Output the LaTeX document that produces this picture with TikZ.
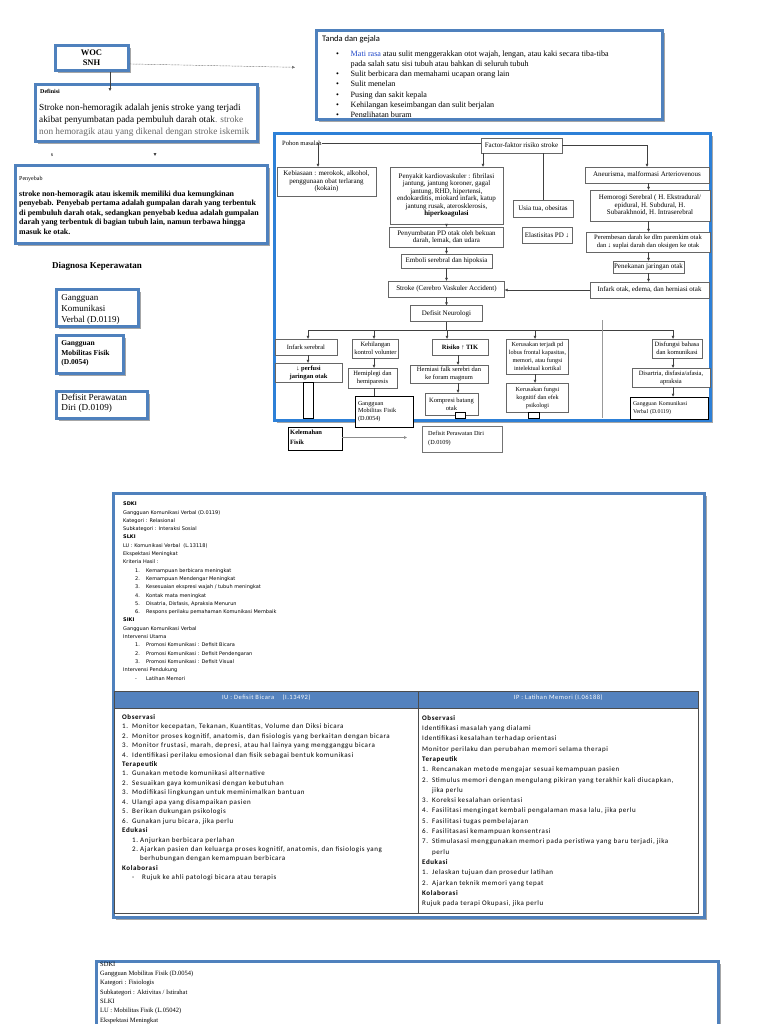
\documentclass[tikz,border=0pt]{standalone}
\usepackage{fontspec}
\setmainfont{Liberation Serif}
\newfontfamily\calfont{Carlito}
\newfontfamily\tblfont[LetterSpace=8]{Carlito}
\newfontfamily\tahfont{DejaVu Sans}
\usetikzlibrary{arrows.meta,shadows,calc}
\definecolor{frameblue}{RGB}{79,129,189}
\definecolor{flowblue}{RGB}{45,128,215}
\definecolor{hdrblue}{RGB}{84,130,190}
\definecolor{linkblue}{RGB}{30,70,200}
\newcommand{\firsth}{\rule{0pt}{0.8em}}
\begin{document}
\begin{tikzpicture}[x=1pt,y=-1pt,
  bframe/.style={draw=frameblue, line width=3pt, fill=white, inner sep=0pt, anchor=north west,
     drop shadow={shadow xshift=2.5pt, shadow yshift=-2.5pt, fill=black!35, opacity=1}},
  fc/.style={draw=black!60, line width=0.45pt, fill=white, align=center, inner sep=0pt,
     font=\fontsize{7}{7.5}\selectfont},
  fl/.style={fc, font=\fontsize{6.5}{8}\selectfont},
  blk/.style={draw=black, line width=0.9pt, fill=white, inner sep=0pt},
  txt/.style={anchor=base west, inner sep=0pt, align=left},
  txtm/.style={anchor=north west, inner sep=0pt, align=left},
  tip/.style={-{Triangle[length=2.8pt,width=2.6pt]}},
  conn/.style={draw=black!75, line width=0.45pt},
]
\useasboundingbox (0,0) rectangle (768,1024);
\clip (0,0) rectangle (768,1024);
\fill[white] (0,0) rectangle (768,1024);

% ---------------- top left ----------------
\node[bframe, minimum width=73pt, minimum height=24.5pt, align=center,
      font=\fontsize{8.5}{10}\selectfont\bfseries] (woc) at (53.5,44.2) {WOC\\SNH};
\node[bframe, minimum width=222pt, minimum height=57pt] (def) at (33.5,83.2) {};
\node[txt, font=\fontsize{6}{7}\selectfont\bfseries] (deft) at (40,93.5) {Definisi};
\node[txtm, font=\fontsize{9.3}{12.3}\selectfont] (defp) at (39,102.4)
  {\firsth Stroke non-hemoragik adalah jenis stroke yang terjadi\\
   akibat penyumbatan pada pembuluh darah otak{\color{black!60}. stroke}\\
   {\color{black!60}non hemoragik atau yang dikenal dengan stroke iskemik}};

\coordinate (defarr) at (110,91);
\draw[conn, tip] (woc.south -| defarr) -- (defarr);
\coordinate (tgarr) at (295,67.3);
\draw[conn, black!55, dash pattern=on 2pt off 1pt, tip] ([yshift=-6pt]woc.east) -- (tgarr);

\node[inner sep=0pt, font=\fontsize{6}{7}\selectfont] (sch) at (52,155) {s};
\coordinate (sarr) at (155,156);
\draw[conn, tip] ([yshift=3pt]sarr) -- (sarr);

\node[bframe, minimum width=252pt, minimum height=77pt] (peny) at (13.5,164.5) {};
\node[txt, font=\fontsize{6}{7}\selectfont] (penyt) at (19,180.3) {Penyebab};
\node[txtm, font=\fontsize{7.9}{9.4}\selectfont\bfseries] (penyp) at (19,190)
  {\firsth stroke non-hemoragik atau iskemik memiliki dua kemungkinan\\
   penyebab. Penyebab pertama adalah gumpalan darah yang terbentuk\\
   di pembuluh darah otak, sedangkan penyebab kedua adalah gumpalan\\
   darah yang terbentuk di bagian tubuh lain, namun terbawa hingga\\
   masuk ke otak.};

\node[txt, font=\fontsize{9}{10}\selectfont\bfseries] (diag) at (52,268.5) {Diagnosa Keperawatan};

\node[bframe, minimum width=82pt, minimum height=37pt] (gkv) at (54.8,288.2) {};
\node[txtm, font=\fontsize{9}{11}\selectfont] (gkvt) at (61.2,293.2) {\firsth Gangguan\\Komunikasi\\Verbal (D.0119)};
\node[bframe, minimum width=67pt, minimum height=37.3pt] (gmf) at (54.5,334.2) {};
\node[txtm, font=\fontsize{7.5}{9.7}\selectfont\bfseries] (gmft) at (61.2,339.2) {\firsth Gangguan\\Mobilitas Fisik\\(D.0054)};
\node[bframe, minimum width=91pt, minimum height=27pt] (dpd) at (54.5,389.5) {};
\node[txtm, font=\fontsize{9.2}{10}\selectfont] (dpdt) at (61.2,393.4) {\firsth Defisit Perawatan\\Diri (D.0109)};

% ---------------- tanda dan gejala ----------------
\node[bframe, minimum width=346pt, minimum height=89pt] (tanda) at (314.5,29.5) {};
\begin{scope}
\clip (316,31) rectangle (659,116.8);
\node[txt, font=\calfont\fontsize{8.5}{10}\selectfont] (tandah) at (322,42) {Tanda dan gejala};
\node[txtm, font=\fontsize{8.1}{10.2}\selectfont] (tandal) at (336,49.6)
  {\firsth\makebox[14.5pt][l]{•}{\color{linkblue}Mati rasa} atau sulit menggerakkan otot wajah, lengan, atau kaki secara tiba-tiba\\
   \hspace*{14.5pt}pada salah satu sisi tubuh atau bahkan di seluruh tubuh\\
   \makebox[14.5pt][l]{•}Sulit berbicara dan memahami ucapan orang lain\\
   \makebox[14.5pt][l]{•}Sulit menelan\\
   \makebox[14.5pt][l]{•}Pusing dan sakit kepala\\
   \makebox[14.5pt][l]{•}Kehilangan keseimbangan dan sulit berjalan\\
   \makebox[14.5pt][l]{•}Penglihatan buram};
\end{scope}

% ---------------- flowchart ----------------
\node[bframe, draw=flowblue, minimum width=436pt, minimum height=287pt] (flow) at (273,132) {};

\node[anchor=west, inner sep=0pt, font=\fontsize{6.5}{7.5}\selectfont] (pohon) at (282,143) {Pohon masalah};
\node[fc, minimum width=81pt, minimum height=15pt] (factor) at (521.5,145.5) {Factor-faktor risiko stroke};
\node[fc, minimum width=99pt, minimum height=29pt] (kebiasaan) at (326.5,181.5) {Kebiasaan : merokok, alkohol,\\penggunaan obat terlarang\\(kokain)};
\node[fc, minimum width=113pt, minimum height=57pt] (penyakit) at (446.5,195.5) {Penyakit kardiovaskuler : fibrilasi\\jantung, jantung koroner, gagal\\jantung, RHD, hipertensi,\\endokarditis, miokard infark, katup\\jantung rusak, aterosklerosis,\\\textbf{hiperkoagulasi}};
\node[fc, minimum width=60pt, minimum height=17pt] (usia) at (543,208.5) {Usia tua, obesitas};
\node[fc, minimum width=50pt, minimum height=16pt] (elast) at (547,235) {Elastisitas PD ↓};
\node[fc, minimum width=124pt, minimum height=16pt] (aneur) at (647,175) {Aneurisma, malformasi Arteriovenous};
\node[fc, minimum width=120pt, minimum height=31pt] (hemor) at (650,205.5) {Hemorogi Serebral ( H. Ekstradural/\\epidural, H. Subdural, H.\\Subarakhnoid, H. Intraserebral};
\node[fc, minimum width=124pt, minimum height=20pt, font=\fontsize{6.6}{7.5}\selectfont] (perem) at (648,242) {Perembesan darah ke dlm parenkim otak\\dan ↓ suplai darah dan oksigen ke otak};
\node[fc, minimum width=71pt, minimum height=12pt] (penek) at (648.5,267) {Penekanan jaringan otak};
\node[fc, minimum width=119pt, minimum height=16pt] (infotak) at (649.5,290) {Infark otak, edema, dan herniasi otak};
\node[fc, minimum width=114pt, minimum height=20pt] (penyum) at (446.5,237) {Penyumbatan PD otak oleh bekuan\\darah, lemak, dan udara};
\node[fc, minimum width=91pt, minimum height=14pt] (emboli) at (446.5,261) {Emboli serebral dan hipoksia};
\node[fc, minimum width=116pt, minimum height=16pt] (stroke) at (446.5,289) {Stroke (Cerebro Vaskuler Accident)};
\node[fc, minimum width=72pt, minimum height=16pt] (defneu) at (446.5,313.5) {Defisit Neurologi};

\node[fl, minimum width=62pt, minimum height=16pt] (infser) at (306,347) {Infark serebral};
\node[fl, minimum width=67pt, minimum height=19pt, font=\fontsize{6.5}{8}\selectfont\bfseries] (perfusi) at (308.5,372.5) {↓ perfusi\\jaringan otak};
\node[blk, line width=0.8pt, minimum width=10pt, minimum height=36pt] (rect1) at (308,400) {};
\node[fl, minimum width=46pt, minimum height=19pt] (kehil) at (375.5,348.5) {Kehilangan\\kontrol volunter};
\node[fl, minimum width=49pt, minimum height=20pt] (hemip) at (372.5,378) {Hemiplegi dan\\hemiparesis};
\node[fl, minimum width=56pt, minimum height=16pt, font=\fontsize{6.5}{8}\selectfont\bfseries] (risiko) at (460,347) {Risiko ↑ TIK};
\node[fl, minimum width=78pt, minimum height=18pt] (hernia) at (449,374) {Herniasi falk serebri dan\\ke foram magnum};
\node[fl, minimum width=53pt, minimum height=22pt] (kompresi) at (451.5,404) {Kompresi batang\\otak};
\node[blk, line width=0.8pt, minimum width=10pt, minimum height=6pt] (sq1) at (460,415) {};
\node[fl, minimum width=62pt, minimum height=35pt, font=\fontsize{6.2}{8}\selectfont] (kerus1) at (537.5,356.5) {Kerusakan terjadi pd\\lobus frontal kapasitas,\\memori, atau fungsi\\intelektual kortikal};
\node[fl, minimum width=62pt, minimum height=29pt, font=\fontsize{6.2}{8}\selectfont] (kerus2) at (537.5,397.5) {Kerusakan fungsi\\kognitif dan efek\\psikologi};
\node[blk, line width=0.8pt, minimum width=11pt, minimum height=6pt] (sq2) at (533.5,415) {};
\node[fl, minimum width=50pt, minimum height=19pt] (disf) at (677,348.5) {Disfungsi bahasa\\dan komunikasi};
\node[fl, minimum width=78pt, minimum height=19pt] (disart) at (671,377.5) {Disartria, disfasia/afasia,\\apraksia};

\node[blk, minimum width=58pt, minimum height=31pt, text width=52pt, align=left,
      font=\fontsize{6.2}{7.8}\selectfont] (gmf2) at (384,411.5) {Gangguan\\Mobilitas Fisik\\(D.0054)};
\node[blk, minimum width=78pt, minimum height=22pt, text width=72pt, align=left,
      font=\fontsize{5.8}{7.5}\selectfont] (gkv2) at (669,408) {Gangguan Komunikasi\\Verbal (D.0119)};

% flowchart connectors
\coordinate (pm) at (318,143);
\coordinate (fk) at (483,143);
\draw[conn] (pohon.east) -- (pohon.east -| factor.west);
\draw[conn, tip] (pm) -- (pm |- kebiasaan.north);
\draw[conn, tip] (factor.south -| fk) -- (fk |- penyakit.north);
\draw[conn] (factor.south -| usia) -- (usia.north);
\draw[conn, tip] (factor.east) -- (factor.east -| aneur) -- (aneur.north);
\draw[conn, tip] (penyakit.south) -- (penyum.north);
\draw[conn, tip] (penyum.south) -- (emboli.north);
\draw[conn, tip] (emboli.south) -- (stroke.north);
\draw[conn, tip] (stroke.south) -- (defneu.north);
\draw[conn, tip] (aneur.south -| penek) -- (penek |- hemor.north);
\draw[conn, tip] (hemor.south -| penek) -- (penek |- perem.north);
\draw[conn, tip] (perem.south -| penek) -- (penek.north);
\draw[conn, tip] (penek.south) -- (penek |- infotak.north);
\draw[conn, tip] (infotak.west) -- (infotak.west -| stroke.east);

\coordinate (b1) at (308,330);
\coordinate (b2) at (374,330);
\coordinate (b3) at (447,330);
\coordinate (b4) at (535,330);
\coordinate (b5) at (673,330);
\coordinate (rc) at (458,330);
\draw[conn] (defneu.south) -- (defneu.south |- b1);
\draw[conn] (b1) -- (b5);
\draw[conn, tip] (b1) -- (b1 |- infser.north);
\draw[conn, tip] (b2) -- (b2 |- kehil.north);
\draw[conn, tip] (b3) -- (b3 |- risiko.north);
\draw[conn, tip] (b4) -- (b4 |- kerus1.north);
\draw[conn, tip] (b5) -- (b5 |- disf.north);
\draw[conn, tip] (b1 |- infser.south) -- (b1 |- perfusi.north);
\draw[conn, tip] (b2 |- kehil.south) -- (b2 |- hemip.north);
\draw[conn] (b2 |- hemip.south) -- (b2 |- gmf2.north);
\draw[conn, tip] (rc |- risiko.south) -- (rc |- hernia.north);
\draw[conn, tip] (rc |- hernia.south) -- (rc |- kompresi.north);
\draw[conn, tip] (b4 |- kerus1.south) -- (b4 |- kerus2.north);
\draw[conn, tip] (b5 |- disf.south) -- (b5 |- disart.north);
\draw[conn, tip] (b5 |- disart.south) -- (b5 |- gkv2.north);
\coordinate (sepT) at (602,320);
\coordinate (sepB) at (602,418);
\draw[conn, black!40] (sepT) -- (sepB);

% below flowchart
\node[blk, anchor=north west, minimum width=54pt, minimum height=23pt] (kelem) at (287.5,426.5) {};
\node[txtm, font=\fontsize{6.5}{10}\selectfont\bfseries] (kelemt) at (290,428.8) {\firsth Kelemahan\\Fisik};
\node[draw=black!55, line width=0.5pt, fill=white, anchor=north west, minimum width=80pt, minimum height=26pt, inner sep=0pt] (defper) at (422,426) {};
\node[txtm, font=\fontsize{6.2}{9}\selectfont] (defpert) at (428,430) {\firsth Defisit Perawatan Diri\\(D.0109)};
\coordinate (kdarr) at (407,437.5);
\draw[conn, black!45, tip] (kelem.east |- kdarr) -- (kdarr);

% ---------------- SDKI block ----------------
\node[bframe, minimum width=591pt, minimum height=424pt] (sdki) at (112,492) {};
\node[txtm, font=\tahfont\fontsize{5}{8.3}\selectfont] (sdkit) at (123,501.5)
 {\firsth\textbf{SDKI}\\
  Gangguan Komunikasi Verbal (D.0119)\\
  Kategori : Relasional\\
  Subkategori : Interaksi Sosial\\
  \textbf{SLKI}\\
  LU : Komunikasi Verbal\ \ (L.13118)\\
  Ekspektasi Meningkat\\
  Kriteria Hasil :\\
  \hspace*{12pt}\makebox[11pt][l]{1.}Kemampuan berbicara meningkat\\
  \hspace*{12pt}\makebox[11pt][l]{2.}Kemampuan Mendengar Meningkat\\
  \hspace*{12pt}\makebox[11pt][l]{3.}Kesesuaian ekspresi wajah / tubuh meningkat\\
  \hspace*{12pt}\makebox[11pt][l]{4.}Kontak mata meningkat\\
  \hspace*{12pt}\makebox[11pt][l]{5.}Disatria, Disfasis, Apraksia Menurun\\
  \hspace*{12pt}\makebox[11pt][l]{6.}Respons perilaku pemahaman Komunikasi Membaik\\
  \textbf{SIKI}\\
  Gangguan Komunikasi Verbal\\
  Intervensi Utama\\
  \hspace*{12pt}\makebox[11pt][l]{1.}Promosi Komunikasi : Defisit Bicara\\
  \hspace*{12pt}\makebox[11pt][l]{2.}Promosi Komunikasi : Defisit Pendengaran\\
  \hspace*{12pt}\makebox[11pt][l]{3.}Promosi Komunikasi : Defisit Visual\\
  Intervensi Pendukung\\
  \hspace*{12pt}\makebox[11pt][l]{-}Latihan Memori};

\node[draw=black!70, line width=0.5pt, fill=hdrblue, anchor=north west, inner sep=0pt,
      minimum width=304pt, minimum height=17pt] (hdrL) at (114,691) {};
\node[draw=black!70, line width=0.5pt, fill=hdrblue, anchor=north west, inner sep=0pt,
      minimum width=280pt, minimum height=17pt] (hdrR) at (418,691) {};
\node[draw=black!70, line width=0.5pt, anchor=north west, inner sep=0pt,
      minimum width=304pt, minimum height=205pt] (bodyL) at (114,708) {};
\node[draw=black!70, line width=0.5pt, anchor=north west, inner sep=0pt,
      minimum width=280pt, minimum height=205pt] (bodyR) at (418,708) {};
\node[inner sep=0pt, text=white, font=\tblfont\fontsize{6.5}{7}\selectfont] (hdrLt) at ([yshift=2.5pt]hdrL.center) {IU : Defisit Bicara\quad\ (I.13492)};
\node[inner sep=0pt, text=white, font=\tblfont\fontsize{6.5}{7}\selectfont] (hdrRt) at ([yshift=2.5pt]hdrR.center) {IP : Latihan Memori (I.06188)};

\node[txtm, font=\tblfont\fontsize{7}{9.45}\selectfont] (leftt) at (122,713.4)
 {\firsth\textbf{Observasi}\\
  \makebox[10pt][l]{1.}Monitor kecepatan, Tekanan, Kuantitas, Volume dan Diksi bicara\\
  \makebox[10pt][l]{2.}Monitor proses kognitif, anatomis, dan fisiologis yang berkaitan dengan bicara\\
  \makebox[10pt][l]{3.}Monitor frustasi, marah, depresi, atau hal lainya yang mengganggu bicara\\
  \makebox[10pt][l]{4.}Identifikasi perilaku emosional dan fisik sebagai bentuk komunikasi\\
  \textbf{Terapeutik}\\
  \makebox[10pt][l]{1.}Gunakan metode komunikasi alternative\\
  \makebox[10pt][l]{2.}Sesuaikan gaya komunikasi dengan kebutuhan\\
  \makebox[10pt][l]{3.}Modifikasi lingkungan untuk meminimalkan bantuan\\
  \makebox[10pt][l]{4.}Ulangi apa yang disampaikan pasien\\
  \makebox[10pt][l]{5.}Berikan dukungan psikologis\\
  \makebox[10pt][l]{6.}Gunakan juru bicara, jika perlu\\
  \textbf{Edukasi}\\
  \hspace*{10pt}\makebox[8pt][l]{1.}Anjurkan berbicara perlahan\\
  \hspace*{10pt}\makebox[8pt][l]{2.}Ajarkan pasien dan keluarga proses kognitif, anatomis, dan fisiologis yang\\
  \hspace*{18pt}berhubungan dengan kemampuan berbicara\\
  \textbf{Kolaborasi}\\
  \hspace*{10pt}\makebox[10pt][l]{-}Rujuk ke ahli patologi bicara atau terapis};

\node[txtm, font=\tblfont\fontsize{7}{10.3}\selectfont] (rightt) at (422,714.4)
 {\firsth\textbf{Observasi}\\
  Identifikasi masalah yang dialami\\
  Identifikasi kesalahan terhadap orientasi\\
  Monitor perilaku dan perubahan memori selama therapi\\
  \textbf{Terapeutik}\\
  \makebox[10pt][l]{1.}Rencanakan metode mengajar sesuai kemampuan pasien\\
  \makebox[10pt][l]{2.}Stimulus memori dengan mengulang pikiran yang terakhir kali diucapkan,\\
  \hspace*{10pt}jika perlu\\
  \makebox[10pt][l]{3.}Koreksi kesalahan orientasi\\
  \makebox[10pt][l]{4.}Fasilitasi mengingat kembali pengalaman masa lalu, jika perlu\\
  \makebox[10pt][l]{5.}Fasilitasi tugas pembelajaran\\
  \makebox[10pt][l]{6.}Fasilitasasi kemampuan konsentrasi\\
  \makebox[10pt][l]{7.}Stimulasasi menggunakan memori pada peristiwa yang baru terjadi, jika\\
  \hspace*{10pt}perlu\\
  \textbf{Edukasi}\\
  \makebox[10pt][l]{1.}Jelaskan tujuan dan prosedur latihan\\
  \makebox[10pt][l]{2.}Ajarkan teknik memori yang tepat\\
  \textbf{Kolaborasi}\\
  Rujuk pada terapi Okupasi, jika perlu};

% ---------------- bottom block ----------------
\node[bframe, minimum width=622pt, minimum height=100pt] (sdki2) at (94.5,959.5) {};
\node[txtm, font=\fontsize{6.5}{9.3}\selectfont] (sdki2t) at (100,960.8)
 {\firsth SDKI\\
  Gangguan Mobilitas Fisik (D.0054)\\
  Kategori : Fisiologis\\
  Subkategori : Aktivitas / Istirahat\\
  SLKI\\
  LU : Mobilitas Fisik (L.05042)\\
  Ekspektasi Meningkat};
\end{tikzpicture}
\end{document}
